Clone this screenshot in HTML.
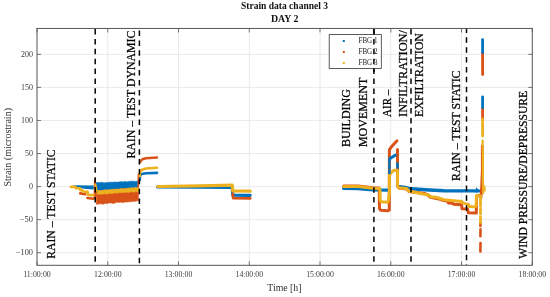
<!DOCTYPE html><html><head><meta charset="utf-8"><title>Strain data channel 3</title><style>html,body{margin:0;padding:0;background:#fff}</style></head><body><svg width="550" height="297" viewBox="0 0 550 297" style="display:block;font-family:'Liberation Serif',serif">
<rect width="550" height="297" fill="#fff"/>
<defs><clipPath id="cp"><rect x="37.0" y="28.45" width="495.30" height="236.85"/></clipPath></defs>
<path d="M107.76 28.45V265.3M178.51 28.45V265.3M249.27 28.45V265.3M320.03 28.45V265.3M390.79 28.45V265.3M461.54 28.45V265.3M37.0 252.72H532.3M37.0 219.66H532.3M37.0 186.60H532.3M37.0 153.54H532.3M37.0 120.48H532.3M37.0 87.42H532.3M37.0 54.36H532.3" stroke="#e4e4e4" stroke-width="0.8" fill="none"/>
<path d="M73.5 185.2L93.8 185.4L93.8 189.5L86.0 188.9L80.0 188.0L73.5 187.0Z" fill="#0072BD"/>
<path d="M96.4 182.6L97.9 182.6L99.4 182.8L100.9 182.2L102.4 182.4L103.9 182.9L105.4 182.7L106.9 182.5L108.4 182.4L109.9 182.2L111.4 182.3L112.9 182.3L114.4 181.9L115.9 182.3L117.4 182.1L118.9 182.0L120.4 181.7L121.9 181.7L123.4 181.9L124.9 181.3L126.4 181.9L127.9 181.6L129.4 181.4L130.9 181.2L132.4 181.3L133.9 181.3L135.4 181.4L136.9 181.2L138.4 181.3L138.4 188.9L136.9 188.3L135.4 189.0L133.9 189.1L132.4 189.1L130.9 188.9L129.4 188.8L127.9 188.8L126.4 189.0L124.9 188.9L123.4 188.9L121.9 189.6L120.4 189.6L118.9 189.8L117.4 189.8L115.9 189.5L114.4 189.3L112.9 189.8L111.4 189.4L109.9 190.1L108.4 190.2L106.9 189.7L105.4 190.1L103.9 190.1L102.4 190.0L100.9 190.6L99.4 190.0L97.9 190.5L96.4 190.5Z" fill="#0072BD" stroke="#0072BD" stroke-width="0.6" stroke-linejoin="round"/>
<path d="M95.4 186.0L96.6 182.6L99.0 183.0L99.0 191.0L97.0 190.5Z" fill="#0072BD"/>
<path d="M139.8 180.0L140.0 176.0L141.5 174.0L146.0 173.3L157.0 172.9" stroke="#0072BD" stroke-width="2.6" fill="none" stroke-linejoin="round" stroke-linecap="round" />
<path d="M157.6 187.0L232.2 187.3L232.8 195.2L250.2 195.3" stroke="#0072BD" stroke-width="3.2" fill="none" stroke-linejoin="round" stroke-linecap="round" />
<path d="M343.6 188.3L358.0 188.6L373.0 189.9L388.6 190.1" stroke="#0072BD" stroke-width="3.2" fill="none" stroke-linejoin="round" stroke-linecap="round" />
<path d="M399.5 186.6L405.0 187.5L411.0 188.8L425.0 189.8L444.0 190.8L478.6 190.9" stroke="#0072BD" stroke-width="3.4" fill="none" stroke-linejoin="round" stroke-linecap="round" />
<path d="M475.6 190.0L476.6 187.0L477.8 189.2L479.8 190.9L477.5 192.6L475.6 192.6Z" fill="#0072BD"/>
<path d="M80.2 193.4L85.4 194.3" stroke="#D95319" stroke-width="2.6" fill="none" stroke-linejoin="round" stroke-linecap="round" />
<path d="M87.4 198.0L93.4 198.8" stroke="#D95319" stroke-width="2.6" fill="none" stroke-linejoin="round" stroke-linecap="round" />
<path d="M93.6 198.0L94.0 180.0L94.6 177.0L95.6 180.0L97.0 192.0L96.0 200.0Z" fill="#D95319"/>
<path d="M96.4 191.3L97.9 191.1L99.4 191.1L100.9 190.5L102.4 190.9L103.9 190.1L105.4 190.3L106.9 190.1L108.4 190.4L109.9 190.1L111.4 190.1L112.9 190.1L114.4 189.7L115.9 189.5L117.4 189.6L118.9 189.2L120.4 189.4L121.9 188.8L123.4 188.9L124.9 189.3L126.4 188.8L127.9 188.9L129.4 188.7L130.9 188.9L132.4 188.4L133.9 188.1L135.4 188.6L136.9 188.1L138.4 187.9L138.4 201.1L136.9 200.7L135.4 201.3L133.9 201.2L132.4 201.6L130.9 201.6L129.4 201.8L127.9 201.9L126.4 202.0L124.9 202.0L123.4 202.5L121.9 202.6L120.4 202.1L118.9 202.5L117.4 202.3L115.9 202.4L114.4 203.3L112.9 203.4L111.4 203.0L109.9 202.9L108.4 203.0L106.9 203.7L105.4 203.3L103.9 204.0L102.4 204.2L100.9 203.6L99.4 204.1L97.9 204.0L96.4 204.4Z" fill="#D95319" stroke="#D95319" stroke-width="0.6" stroke-linejoin="round"/>
<path d="M138.3 190.0L138.4 174.0" stroke="#D95319" stroke-width="1.6" fill="none" stroke-linejoin="round" stroke-linecap="round" />
<path d="M139.9 162.5L141.0 160.4L143.0 159.0L146.0 158.2L157.0 157.4" stroke="#D95319" stroke-width="2.5" fill="none" stroke-linejoin="round" stroke-linecap="round" />
<path d="M232.8 194.0L233.2 198.2L250.2 198.4" stroke="#D95319" stroke-width="2.8" fill="none" stroke-linejoin="round" stroke-linecap="round" />
<path d="M343.6 186.0L358.0 186.0L373.0 187.7L379.2 188.0L379.5 208.5L380.6 210.3L387.9 210.8" stroke="#D95319" stroke-width="3" fill="none" stroke-linejoin="round" stroke-linecap="round" />
<path d="M389.3 210.0L389.4 150.0L390.5 148.0L393.0 145.0L397.0 140.8" stroke="#D95319" stroke-width="3" fill="none" stroke-linejoin="round" stroke-linecap="round" />
<path d="M397.5 149.5L397.5 186.0L399.0 188.0L406.6 189.0L409.0 191.4L425.0 193.6L429.4 195.8L429.6 197.0L440.0 199.2L442.7 200.3L448.0 201.4L448.3 202.9L453.0 203.2L453.4 204.2L461.6 204.8L461.9 208.7L467.6 209.0L468.2 212.8L476.3 213.1L476.6 196.0L479.0 195.6" stroke="#D95319" stroke-width="3" fill="none" stroke-linejoin="round" stroke-linecap="round" />
<path d="M482.6 53.0L482.6 74.5" stroke="#D95319" stroke-width="2.8" fill="none" stroke-linejoin="round" stroke-linecap="round" />
<path d="M482.6 108.0L482.6 119.0" stroke="#D95319" stroke-width="2.8" fill="none" stroke-linejoin="round" stroke-linecap="round" />
<path d="M482.4 146.0L482.4 170.0L481.8 186.0L480.8 198.0" stroke="#D95319" stroke-width="3.0" fill="none" stroke-linejoin="round" stroke-linecap="round" />
<path d="M480.5 223.0L480.4 226.0" stroke="#D95319" stroke-width="2.6" fill="none" stroke-linejoin="round" stroke-linecap="round" />
<path d="M480.5 229.4L480.4 236.2" stroke="#D95319" stroke-width="2.6" fill="none" stroke-linejoin="round" stroke-linecap="round" />
<path d="M480.5 243.0L480.4 251.4" stroke="#D95319" stroke-width="2.6" fill="none" stroke-linejoin="round" stroke-linecap="round" />
<path d="M70.9 186.8L75.4 186.9L75.8 188.2L80.0 188.4L80.4 190.2L82.5 190.4L83.0 191.5L87.5 191.8L88.0 194.8L93.4 195.1" stroke="#EDB120" stroke-width="2.7" fill="none" stroke-linejoin="round" stroke-linecap="round" />
<path d="M94.4 184.5L95.4 183.3L96.4 184.5L97.5 190.0L96.0 192.0L94.6 191.0Z" fill="#EDB120"/>
<path d="M97.2 190.4L98.7 190.8L100.1 190.7L101.6 190.6L103.1 190.5L104.6 189.7L106.0 190.2L107.5 189.7L109.0 189.9L110.4 189.6L111.9 189.4L113.4 189.2L114.9 189.5L116.3 189.2L117.8 188.9L119.3 189.2L120.7 188.5L122.2 188.9L123.7 188.4L125.2 188.7L126.6 188.6L128.1 188.0L129.6 188.4L131.0 187.7L132.5 187.8L134.0 188.0L135.5 187.3L136.9 187.7L138.4 187.6L138.4 191.5L136.9 191.8L135.5 191.6L134.0 192.2L132.5 191.7L131.0 191.8L129.6 192.2L128.1 192.4L126.6 192.1L125.2 192.4L123.7 192.5L122.2 192.3L120.7 192.7L119.3 192.7L117.8 192.8L116.3 193.3L114.9 192.8L113.4 193.2L111.9 193.5L110.4 193.3L109.0 193.4L107.5 193.7L106.0 194.2L104.6 193.5L103.1 194.2L101.6 194.0L100.1 194.2L98.7 193.9L97.2 194.5Z" fill="#EDB120" stroke="#EDB120" stroke-width="0.6" stroke-linejoin="round"/>
<path d="M139.8 176.0L140.0 172.5L141.5 170.0L146.0 168.5L157.0 167.8" stroke="#EDB120" stroke-width="2.6" fill="none" stroke-linejoin="round" stroke-linecap="round" />
<path d="M157.8 186.5L200.0 185.8L232.2 185.2L232.8 191.0L250.2 191.2" stroke="#EDB120" stroke-width="3.2" fill="none" stroke-linejoin="round" stroke-linecap="round" />
<path d="M343.6 186.5L358.0 186.5L373.0 188.2L379.9 188.5L380.2 200.0L381.2 201.8L387.6 202.2" stroke="#EDB120" stroke-width="3" fill="none" stroke-linejoin="round" stroke-linecap="round" />
<path d="M388.4 201.0L389.4 193.0L389.4 175.5L390.5 173.5L393.0 171.0L395.0 170.2L397.4 170.4L397.6 186.0L398.6 187.6L400.0 188.1L406.6 188.5L409.0 191.2L411.0 191.5L424.3 194.2L429.4 195.2L429.8 196.7L436.0 197.2L444.0 199.7L461.6 201.5L462.0 202.4L465.0 203.6L468.6 204.4L469.0 206.6L475.5 206.8L476.2 205.0L476.4 195.8L479.4 195.7" stroke="#EDB120" stroke-width="3" fill="none" stroke-linejoin="round" stroke-linecap="round" />
<path d="M482.6 119.0L482.6 136.0" stroke="#EDB120" stroke-width="2.8" fill="none" stroke-linejoin="round" stroke-linecap="round" />
<path d="M482.6 140.5L482.8 150.0L482.9 166.0L482.9 180.0L483.2 193.0" stroke="#EDB120" stroke-width="2.2" fill="none" stroke-linejoin="round" stroke-linecap="round" />
<path d="M484.6 186.0L485.0 191.0" stroke="#EDB120" stroke-width="1.6" fill="none" stroke-linejoin="round" stroke-linecap="round" />
<path d="M480.5 196.0L480.5 206.0" stroke="#EDB120" stroke-width="2.8" fill="none" stroke-linejoin="round" stroke-linecap="round" />
<path d="M480.5 208.5L480.5 214.0" stroke="#EDB120" stroke-width="2.8" fill="none" stroke-linejoin="round" stroke-linecap="round" />
<path d="M480.5 217.0L480.5 222.6" stroke="#EDB120" stroke-width="2.8" fill="none" stroke-linejoin="round" stroke-linecap="round" />
<path d="M389.6 158.8L395.2 155.2" stroke="#0072BD" stroke-width="3" fill="none" stroke-linejoin="round" stroke-linecap="round" />
<path d="M389.4 160.5L389.4 163.0" stroke="#0072BD" stroke-width="2.6" fill="none" stroke-linejoin="round" stroke-linecap="round" />
<path d="M389.4 165.5L389.4 168.0" stroke="#0072BD" stroke-width="2.6" fill="none" stroke-linejoin="round" stroke-linecap="round" />
<path d="M389.4 170.5L389.4 173.0" stroke="#0072BD" stroke-width="2.6" fill="none" stroke-linejoin="round" stroke-linecap="round" />
<path d="M397.5 163.5L397.5 167.5" stroke="#0072BD" stroke-width="2.6" fill="none" stroke-linejoin="round" stroke-linecap="round" />
<path d="M482.6 39.6L482.6 52.5" stroke="#0072BD" stroke-width="2.8" fill="none" stroke-linejoin="round" stroke-linecap="round" />
<path d="M482.6 96.8L482.6 107.5" stroke="#0072BD" stroke-width="2.8" fill="none" stroke-linejoin="round" stroke-linecap="round" />
<g clip-path="url(#cp)">
<path d="M95.2 29.0V265.3" stroke="#000" stroke-width="1.5" stroke-dasharray="5.5 4.38" fill="none"/>
</g>
<g clip-path="url(#cp)">
<path d="M139.4 30.6V265.3" stroke="#000" stroke-width="1.5" stroke-dasharray="5.5 4.38" fill="none"/>
</g>
<g clip-path="url(#cp)">
<path d="M373.9 29.1V265.3" stroke="#000" stroke-width="1.5" stroke-dasharray="5.5 4.38" fill="none"/>
</g>
<g clip-path="url(#cp)">
<path d="M411.0 29.0V265.3" stroke="#000" stroke-width="1.5" stroke-dasharray="5.5 4.38" fill="none"/>
</g>
<g clip-path="url(#cp)">
<path d="M466.5 17.519999999999996V265.3" stroke="#000" stroke-width="1.5" stroke-dasharray="5.5 4.38" fill="none"/>
</g>
<rect x="37.0" y="28.45" width="495.30" height="236.85" fill="none" stroke="#555" stroke-width="1"/>
<path d="M37.00 265.3v-4M37.00 28.45v4M107.76 265.3v-4M107.76 28.45v4M178.51 265.3v-4M178.51 28.45v4M249.27 265.3v-4M249.27 28.45v4M320.03 265.3v-4M320.03 28.45v4M390.79 265.3v-4M390.79 28.45v4M461.54 265.3v-4M461.54 28.45v4M532.30 265.3v-4M532.30 28.45v4M37.0 252.72h4M532.3 252.72h-4M37.0 219.66h4M532.3 219.66h-4M37.0 186.60h4M532.3 186.60h-4M37.0 153.54h4M532.3 153.54h-4M37.0 120.48h4M532.3 120.48h-4M37.0 87.42h4M532.3 87.42h-4M37.0 54.36h4M532.3 54.36h-4" stroke="#555" stroke-width="0.8" fill="none"/>
<text x="37.0" y="276.6" font-size="8" fill="#3a3a3a" text-anchor="middle" textLength="27.6" lengthAdjust="spacingAndGlyphs">11:00:00</text>
<text x="107.8" y="276.6" font-size="8" fill="#3a3a3a" text-anchor="middle" textLength="27.6" lengthAdjust="spacingAndGlyphs">12:00:00</text>
<text x="178.5" y="276.6" font-size="8" fill="#3a3a3a" text-anchor="middle" textLength="27.6" lengthAdjust="spacingAndGlyphs">13:00:00</text>
<text x="249.3" y="276.6" font-size="8" fill="#3a3a3a" text-anchor="middle" textLength="27.6" lengthAdjust="spacingAndGlyphs">14:00:00</text>
<text x="320.0" y="276.6" font-size="8" fill="#3a3a3a" text-anchor="middle" textLength="27.6" lengthAdjust="spacingAndGlyphs">15:00:00</text>
<text x="390.8" y="276.6" font-size="8" fill="#3a3a3a" text-anchor="middle" textLength="27.6" lengthAdjust="spacingAndGlyphs">16:00:00</text>
<text x="461.5" y="276.6" font-size="8" fill="#3a3a3a" text-anchor="middle" textLength="27.6" lengthAdjust="spacingAndGlyphs">17:00:00</text>
<text x="532.3" y="276.6" font-size="8" fill="#3a3a3a" text-anchor="middle" textLength="27.6" lengthAdjust="spacingAndGlyphs">18:00:00</text>
<text x="33.0" y="255.4" font-size="8" fill="#3a3a3a" text-anchor="end" textLength="17.2" lengthAdjust="spacingAndGlyphs">−100</text>
<text x="33.0" y="222.4" font-size="8" fill="#3a3a3a" text-anchor="end" textLength="13.2" lengthAdjust="spacingAndGlyphs">−50</text>
<text x="33.0" y="189.3" font-size="8" fill="#3a3a3a" text-anchor="end">0</text>
<text x="33.0" y="156.2" font-size="8" fill="#3a3a3a" text-anchor="end">50</text>
<text x="33.0" y="123.2" font-size="8" fill="#3a3a3a" text-anchor="end">100</text>
<text x="33.0" y="90.1" font-size="8" fill="#3a3a3a" text-anchor="end">150</text>
<text x="33.0" y="57.1" font-size="8" fill="#3a3a3a" text-anchor="end">200</text>
<text x="284.5" y="9.2" font-size="9.5" font-weight="bold" fill="#111" text-anchor="middle" textLength="87" lengthAdjust="spacingAndGlyphs">Strain data channel 3</text>
<text x="284.7" y="22" font-size="9.5" font-weight="bold" fill="#111" text-anchor="middle" textLength="27.5" lengthAdjust="spacingAndGlyphs">DAY 2</text>
<text x="284.4" y="291.2" font-size="10" fill="#333" text-anchor="middle" textLength="34.3" lengthAdjust="spacingAndGlyphs">Time [h]</text>
<text transform="translate(11.4 147.3) rotate(-90)" font-size="9.8" fill="#333" text-anchor="middle" textLength="78.5" lengthAdjust="spacingAndGlyphs">Strain (microstrain)</text>
<rect x="329.2" y="34.6" width="52.1" height="33.8" fill="#fff" stroke="#333" stroke-width="0.8"/>
<rect x="342.8" y="40.0" width="2" height="2" fill="#0072BD"/>
<text x="358.5" y="42.7" font-size="7.4" fill="#222" textLength="19" lengthAdjust="spacingAndGlyphs">FBG 1</text>
<rect x="342.8" y="51.0" width="2" height="2" fill="#D95319"/>
<text x="358.5" y="53.7" font-size="7.4" fill="#222" textLength="19" lengthAdjust="spacingAndGlyphs">FBG 2</text>
<rect x="342.8" y="61.9" width="2" height="2" fill="#EDB120"/>
<text x="358.5" y="64.6" font-size="7.4" fill="#222" textLength="19" lengthAdjust="spacingAndGlyphs">FBG 3</text>
<path d="M373.9 29.1V72" stroke="#000" stroke-width="1.5" stroke-dasharray="5.5 4.38" fill="none"/>
<text transform="translate(54.6 258.8) rotate(-90)" font-size="12.4" fill="#000" stroke="#000" stroke-width="0.25" textLength="109.4" lengthAdjust="spacingAndGlyphs">RAIN – TEST STATIC</text>
<text transform="translate(134.6 158.6) rotate(-90)" font-size="12.4" fill="#000" stroke="#000" stroke-width="0.25" textLength="128" lengthAdjust="spacingAndGlyphs">RAIN – TEST DYNAMIC</text>
<text transform="translate(350.3 147.1) rotate(-90)" font-size="12.4" fill="#000" stroke="#000" stroke-width="0.25" textLength="58" lengthAdjust="spacingAndGlyphs">BUILDING</text>
<text transform="translate(366.9 147.1) rotate(-90)" font-size="12.4" fill="#000" stroke="#000" stroke-width="0.25" textLength="69.5" lengthAdjust="spacingAndGlyphs">MOVEMENT</text>
<text transform="translate(391.0 117.0) rotate(-90)" font-size="12.4" fill="#000" stroke="#000" stroke-width="0.25" textLength="27.3" lengthAdjust="spacingAndGlyphs">AIR –</text>
<text transform="translate(407.3 117.0) rotate(-90)" font-size="12.4" fill="#000" stroke="#000" stroke-width="0.25" textLength="87" lengthAdjust="spacingAndGlyphs">INFILTRATION/</text>
<text transform="translate(422.6 117.0) rotate(-90)" font-size="12.4" fill="#000" stroke="#000" stroke-width="0.25" textLength="84" lengthAdjust="spacingAndGlyphs">EXFILTRATION</text>
<text transform="translate(460.2 181) rotate(-90)" font-size="12.4" fill="#000" stroke="#000" stroke-width="0.25" textLength="110.5" lengthAdjust="spacingAndGlyphs">RAIN – TEST STATIC</text>
<text transform="translate(526.6 258.8) rotate(-90)" font-size="12.4" fill="#000" stroke="#000" stroke-width="0.25" textLength="168" lengthAdjust="spacingAndGlyphs">WIND PRESSURE/DEPRESSURE</text>
</svg></body></html>
